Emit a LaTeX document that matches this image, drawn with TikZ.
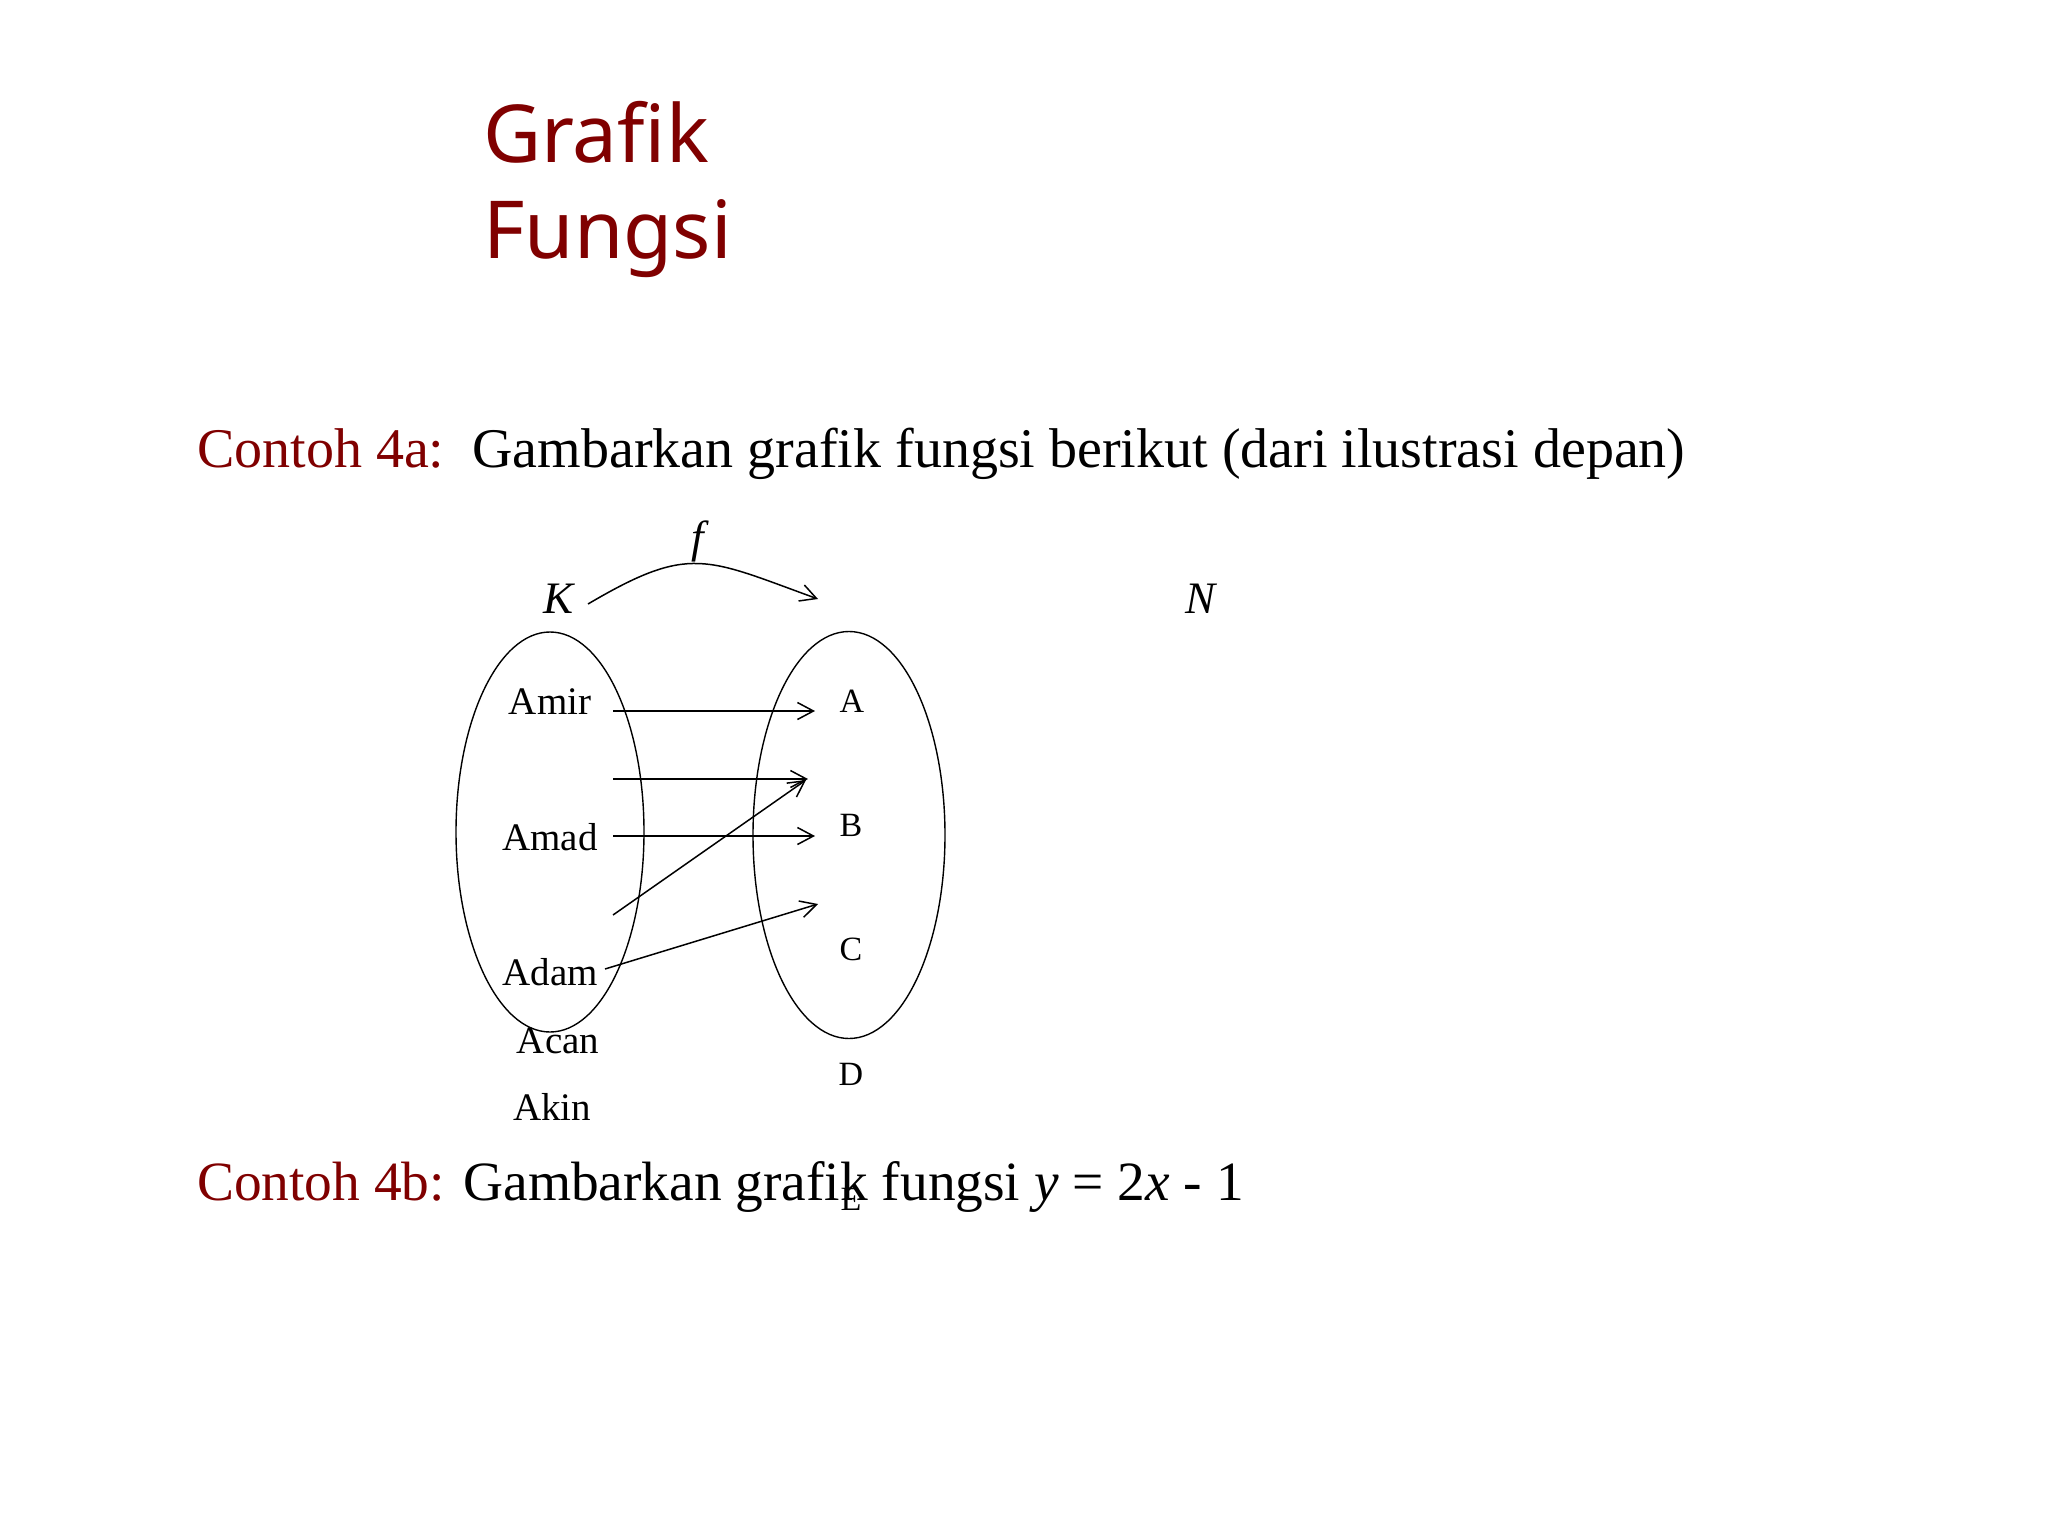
\documentclass[tikz,border=0pt]{standalone}
\usepackage{fontspec}
\setmainfont{Liberation Serif}
\newfontfamily\titlefont{Noto Sans}
\usetikzlibrary{arrows.meta,shapes.geometric}
\definecolor{darkred}{HTML}{800000}
\begin{document}
\begin{tikzpicture}[x=1pt,y=-1pt,
  title/.style={font=\titlefont\fontsize{80}{95}\selectfont, text=darkred, inner sep=0, anchor=base west},
  body/.style={font=\fontsize{56}{67}\selectfont, inner sep=0, anchor=base west},
  lbl/.style={font=\fontsize{39}{47}\selectfont, inner sep=0, anchor=base},
  rlbl/.style={font=\fontsize{34}{40}\selectfont, inner sep=0, anchor=base},
  setname/.style={font=\itshape\fontsize{45}{54}\selectfont, inner sep=0, anchor=base},
  setell/.style={ellipse, draw, line width=1.4pt, inner sep=0},
  arr/.style={-{Straight Barb[length=16pt,width=17pt,line width=1.5pt]}, line width=1.5pt}
]
\fill[white] (0,0) rectangle (2048,1536);
\useasboundingbox (0,0) rectangle (2048,1536);

\node[title] (t1) at (483,163) {Grafik};
\node[title] (t2) at (483,258) {Fungsi};

\node[body] (c4a) at (197,467) {\textcolor{darkred}{Contoh 4a:}\ \ Gambarkan grafik fungsi berikut (dari ilustrasi depan)};
\node[body, font=\fontsize{55.4}{66}\selectfont] (c4b) at (197,1200) {\textcolor{darkred}{Contoh 4b:} Gambarkan grafik fungsi \textit{y} = 2\textit{x} - 1};

\node[setell, minimum width=188pt, minimum height=400pt] (setK) at (550,832) {};
\node[setell, minimum width=192pt, minimum height=407pt] (setN) at (849,835) {};

\node[setname] (K) at (559,613) {K};
\node[setname] (N) at (1200,613) {N};
\node[setname] (f) at (698,552) {f};

\node[lbl] (amir) at (550,714) {Amir};
\node[lbl] (amad) at (550,850) {Amad};
\node[lbl] (adam) at (550,985) {Adam};
\node[lbl] (acan) at (558,1053) {Acan};
\node[lbl] (akin) at (552,1120) {Akin};

\node[rlbl] (A) at (852,712) {A};
\node[rlbl] (B) at (851,836) {B};
\node[rlbl] (C) at (851,960) {C};
\node[rlbl] (D) at (851,1085) {D};
\node[rlbl] (E) at (851,1210) {E};

\coordinate (fs) at (588,604);
\coordinate (fe) at (818,599);
\draw[arr] (fs) .. controls (690,544) and (705,558) .. (fe);

\coordinate (a1s) at (613,711); \coordinate (a1e) at (815,711);
\coordinate (a2s) at (613,779); \coordinate (a2e) at (808,779);
\coordinate (a3s) at (613,836); \coordinate (a3e) at (815,836);
\coordinate (a4s) at (613,915); \coordinate (a4e) at (806,780);
\coordinate (a5s) at (605,969); \coordinate (a5e) at (818,904);
\draw[arr] (a1s) -- (a1e);
\draw[arr] (a2s) -- (a2e);
\draw[arr] (a3s) -- (a3e);
\draw[arr] (a4s) -- (a4e);
\draw[arr] (a5s) -- (a5e);
\end{tikzpicture}
\end{document}
